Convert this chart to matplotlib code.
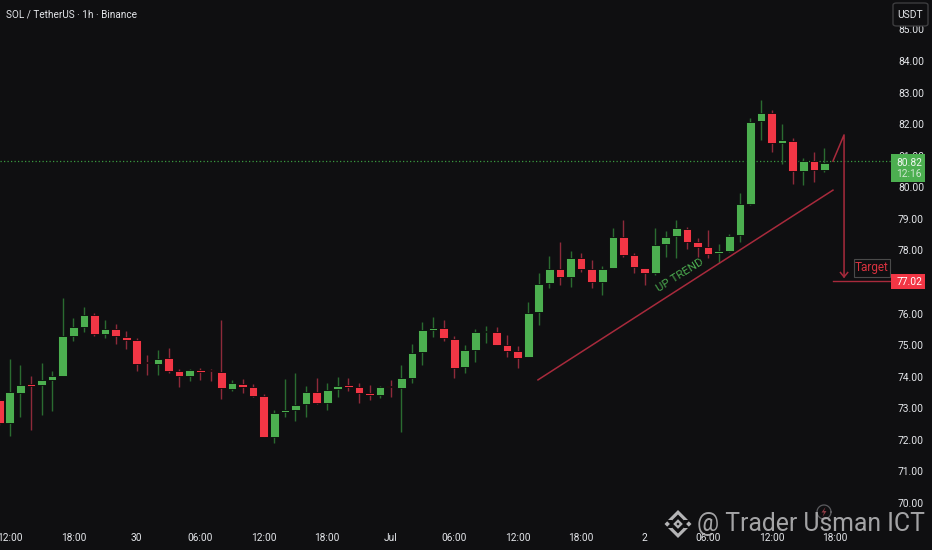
import numpy as np
import matplotlib
matplotlib.use("Agg")
import matplotlib.pyplot as plt
from matplotlib.patches import FancyBboxPatch, Polygon, Rectangle

# hourly candles, first one sits just off the left edge
opens = [73.26, 72.52, 73.50, 73.76, 73.73, 73.90, 74.01, 75.30, 75.58, 75.97, 75.36, 75.50,
         75.26, 75.16, 74.47, 74.40, 74.60, 74.18, 74.01, 74.22, 74.21, 74.15, 73.62, 73.78,
         73.67, 73.40, 72.09, 72.87, 72.95, 73.15, 73.51, 73.17, 73.60, 73.73, 73.67, 73.47,
         73.43, 73.70, 73.65, 73.96, 74.77, 75.47, 75.55, 75.21, 74.31, 74.85, 75.42, 75.43,
         74.99, 74.82, 74.62, 76.04, 76.96, 77.42, 77.15, 77.76, 77.40, 77.01, 77.44, 78.41,
         77.85, 77.45, 77.28, 78.20, 78.45, 78.69, 78.28, 78.10, 77.91, 77.99, 78.48, 79.47,
         82.09, 82.35, 81.39, 81.47, 80.51, 80.84, 80.55]
highs = [73.31, 74.56, 74.37, 74.02, 74.45, 74.18, 76.50, 75.87, 76.22, 76.03, 75.79, 75.66,
         75.45, 75.23, 74.68, 74.85, 74.91, 74.25, 74.23, 74.27, 74.26, 75.79, 73.89, 73.92,
         73.78, 73.45, 72.96, 73.92, 74.11, 73.72, 73.96, 73.81, 73.99, 73.96, 73.81, 73.75,
         73.72, 73.89, 74.38, 75.03, 75.72, 75.89, 75.79, 75.29, 74.99, 75.51, 75.60, 75.57,
         75.32, 74.98, 76.37, 77.29, 77.83, 78.27, 77.98, 77.93, 77.70, 77.52, 78.71, 78.97,
         77.91, 77.45, 78.71, 78.61, 78.97, 78.73, 78.39, 78.65, 78.21, 78.52, 79.81, 82.18,
         82.76, 82.45, 81.99, 81.55, 80.94, 81.12, 81.23]
lows = [72.46, 72.12, 72.73, 72.31, 72.79, 72.91, 74.01, 75.14, 75.42, 75.30, 75.23, 75.05,
        74.88, 74.19, 74.05, 74.05, 74.12, 73.69, 73.86, 73.91, 73.86, 73.29, 73.54, 73.49,
        73.35, 72.09, 71.91, 72.73, 72.59, 72.73, 73.15, 72.96, 73.35, 73.54, 73.18, 73.27,
        73.32, 73.35, 72.26, 73.81, 74.37, 75.25, 75.14, 73.97, 74.11, 74.46, 75.06, 74.99,
        74.64, 74.27, 74.62, 75.65, 76.82, 76.92, 76.85, 77.31, 76.81, 76.60, 77.44, 77.79,
        77.28, 76.91, 77.23, 77.80, 77.76, 78.06, 77.78, 77.75, 77.59, 77.95, 78.28, 79.44,
        81.50, 81.12, 80.73, 80.10, 80.07, 80.17, 80.48]
closes = [72.52, 73.51, 73.74, 73.70, 73.91, 74.01, 75.30, 75.58, 75.97, 75.36, 75.52, 75.29,
          75.16, 74.41, 74.42, 74.57, 74.18, 74.01, 74.21, 74.16, 74.17, 73.63, 73.79, 73.68,
          73.40, 72.09, 72.86, 72.94, 73.11, 73.51, 73.17, 73.59, 73.72, 73.68, 73.48, 73.43,
          73.67, 73.66, 73.96, 74.76, 75.47, 75.55, 75.24, 74.29, 74.85, 75.43, 75.44, 74.99,
          74.83, 74.60, 76.03, 76.95, 77.42, 77.15, 77.76, 77.41, 76.99, 77.40, 78.42, 77.86,
          77.46, 77.28, 78.18, 78.44, 78.72, 78.28, 78.11, 77.89, 77.99, 78.47, 79.47, 82.08,
          82.35, 81.39, 81.50, 80.51, 80.84, 80.55, 80.78]

last_price = 80.82
target_price = 77.02
# 77.00 is hidden behind the target badge in the original
y_ticks = [70, 71, 72, 73, 74, 75, 76, 78, 79, 80, 81, 82, 83, 84, 85]
x_tick_pos = [-6, 0, 6, 12, 18, 24, 30, 36, 42, 48, 54, 60, 66, 72]
x_tick_labels = ["12:00", "18:00", "30", "06:00", "12:00", "18:00", "Jul", "06:00", "12:00",
                 "18:00", "2", "06:00", "12:00", "18:00"]

# drawings on the chart: bar position / price
trend_x = [43.92, 71.8]
trend_y = [73.90, 79.91]
path_x = [71.8, 72.85, 72.85]
path_y = [80.83, 81.66, 77.16]

BG = "#0f0f11"
GREEN = "#4caf50"
RED = "#f23645"
GREEN_WICK = "#2a6b30"
RED_WICK = "#8e2a3a"
DRAW_RED = "#a82a3c"
TEXT = "#e4e6ea"
FONT = "Roboto"

W, H = 932, 550


def px(x, y):
    return x / W, 1 - y / H


def main():
    fig = plt.figure(figsize=(W / 100, H / 100), dpi=100, facecolor=BG)
    ax = fig.add_axes([0, 1 - 525 / H, 891 / W, 525 / H], facecolor=BG)
    ax.set_xlim(-73.3 / 10.58, (891 - 73.3) / 10.58)
    ax.set_ylim(70 - 22 / 31.57, 70 + 503 / 31.57)

    for s in ax.spines.values():
        s.set_visible(False)
    ax.yaxis.tick_right()
    ax.set_yticks(y_ticks, [f"{v:.2f}" for v in y_ticks], family=FONT, fontsize=7.4, color=TEXT)
    ax.set_xticks(x_tick_pos, x_tick_labels, family=FONT, fontsize=7.3, color=TEXT)
    ax.tick_params(length=0, axis="y", pad=5)
    ax.tick_params(length=0, axis="x", pad=6)

    o, h, l, c = map(np.array, (opens, highs, lows, closes))
    xs = np.arange(len(o)) - 7
    up = c >= o

    ax.axhline(last_price, color="#3a9a40", lw=0.9, ls=(0, (1, 1.8)), zorder=1)

    ax.vlines(xs[up], l[up], h[up], color=GREEN_WICK, lw=1.0, zorder=2)
    ax.vlines(xs[~up], l[~up], h[~up], color=RED_WICK, lw=1.0, zorder=2)
    body_lo = np.minimum(o, c)
    body_hi = np.maximum(o, c)
    ax.bar(xs[up], (body_hi - body_lo)[up], bottom=body_lo[up], width=0.82, color=GREEN,
           edgecolor="#08080a", linewidth=0.6, zorder=3)
    ax.bar(xs[~up], (body_hi - body_lo)[~up], bottom=body_lo[~up], width=0.82, color=RED,
           edgecolor="#08080a", linewidth=0.6, zorder=3)

    # trend line, move down to target
    ax.plot(trend_x, trend_y, color=DRAW_RED, lw=1.1, zorder=4)
    ax.plot(path_x, path_y, color=DRAW_RED, lw=1.1, zorder=4)
    ax.plot([path_x[2] - 0.34, path_x[2], path_x[2] + 0.34],
            [path_y[2] + 0.14, path_y[2], path_y[2] + 0.14], color=DRAW_RED, lw=1.1, zorder=4)
    ax.plot([trend_x[1], 77.3], [target_price, target_price], color=DRAW_RED, lw=1.0, zorder=4)

    fig.text(*px(680, 275), "UP TREND", color="#4aa84e", fontsize=8.2, family=FONT,
             rotation=32, ha="center", va="center", rotation_mode="anchor")

    tf = fig.transFigure

    def box(x0, y0, x1, y1, **kw):
        x, y = px(x0, y1)
        return Rectangle((x, y), (x1 - x0) / W, (y1 - y0) / H, transform=tf, clip_on=False, **kw)

    ax.add_patch(box(854, 259, 890, 277, facecolor=BG, edgecolor="#4a4a4a", lw=0.8, zorder=6))
    fig.text(*px(872, 268), "Target", color="#d8323f", fontsize=8.5, family=FONT,
             ha="center", va="center", zorder=7)

    # price badges on the scale
    ax.add_patch(box(891, 154, 925, 182, facecolor=GREEN, edgecolor="none", zorder=6))
    fig.text(*px(909, 162.5), f"{last_price:.2f}", color="#eef5ee", fontsize=7.4, family=FONT,
             ha="center", va="center", zorder=7)
    fig.text(*px(909, 174), "12:16", color="#cfe6d0", fontsize=7.4, family=FONT,
             ha="center", va="center", zorder=7)
    ax.add_patch(box(891, 274, 925, 289, facecolor=RED, edgecolor="none", zorder=6))
    fig.text(*px(909, 282), f"{target_price:.2f}", color="#ffffff", fontsize=7.4, family=FONT,
             ha="center", va="center", zorder=7)

    # USDT button hides the top of the 85.00 label
    bx, by = px(893, 26)
    ax.add_patch(FancyBboxPatch((bx, by), 35 / W, 23 / H, boxstyle="round,pad=0,rounding_size=0.004",
                                transform=tf, facecolor=BG, edgecolor="#3c3c3e", lw=1.0,
                                clip_on=False, zorder=6))
    fig.text(*px(910.5, 15), "USDT", color=TEXT, fontsize=7.4, family=FONT,
             ha="center", va="center", zorder=7)

    fig.text(*px(6, 15), "SOL / TetherUS · 1h · Binance", color=TEXT, fontsize=7.2, family=FONT,
             ha="left", va="center")

    # lightning icon
    cx, cy = px(824, 512)
    ax.add_patch(Polygon([px(825.5, 507), px(821.5, 512.5), px(824, 512.5), px(822.5, 517),
                          px(826.5, 511), px(824, 511)], closed=True, transform=tf,
                         facecolor="#8a3a44", edgecolor="none", clip_on=False, zorder=8))
    theta = np.linspace(0, 2 * np.pi, 50)
    ax.plot(cx + 7 * np.cos(theta) / W, cy + 7 * np.sin(theta) / H, color="#5c5c60", lw=0.9,
            transform=tf, clip_on=False, zorder=8)

    # watermark
    fig.text(*px(697, 524), "@ Trader Usman ICT", color="#b4b4b6", fontsize=17.8,
             family=FONT, ha="left", va="center", alpha=0.9, zorder=9)

    def diamond(x0, y0, r, color="#b4b4b6"):
        return Polygon([px(x0 - r, y0), px(x0, y0 - r), px(x0 + r, y0), px(x0, y0 + r)],
                       closed=True, transform=tf, facecolor=color, edgecolor="none",
                       clip_on=False, zorder=9)

    # binance logo: chevrons, centre diamond with a hole, two side diamonds
    lx, ly = 678, 524
    ax.add_patch(diamond(lx, ly, 14))
    ax.add_patch(diamond(lx, ly, 9.5, BG))
    ax.add_patch(diamond(lx, ly, 4.8))
    ax.add_patch(diamond(lx, ly, 1.6, BG))
    for side in (-1, 1):
        ax.add_patch(Polygon([px(lx + side * 14.5, ly - 4), px(lx + side * 14.5, ly + 4),
                              px(lx + side * 6, ly + 4), px(lx + side * 6, ly - 4)],
                             closed=True, transform=tf, facecolor=BG, edgecolor="none",
                             clip_on=False, zorder=9))
        ax.add_patch(diamond(lx + side * 10.8, ly, 2.7))

    fig.savefig("out.png", dpi=100, facecolor=BG)


if __name__ == "__main__":
    main()
